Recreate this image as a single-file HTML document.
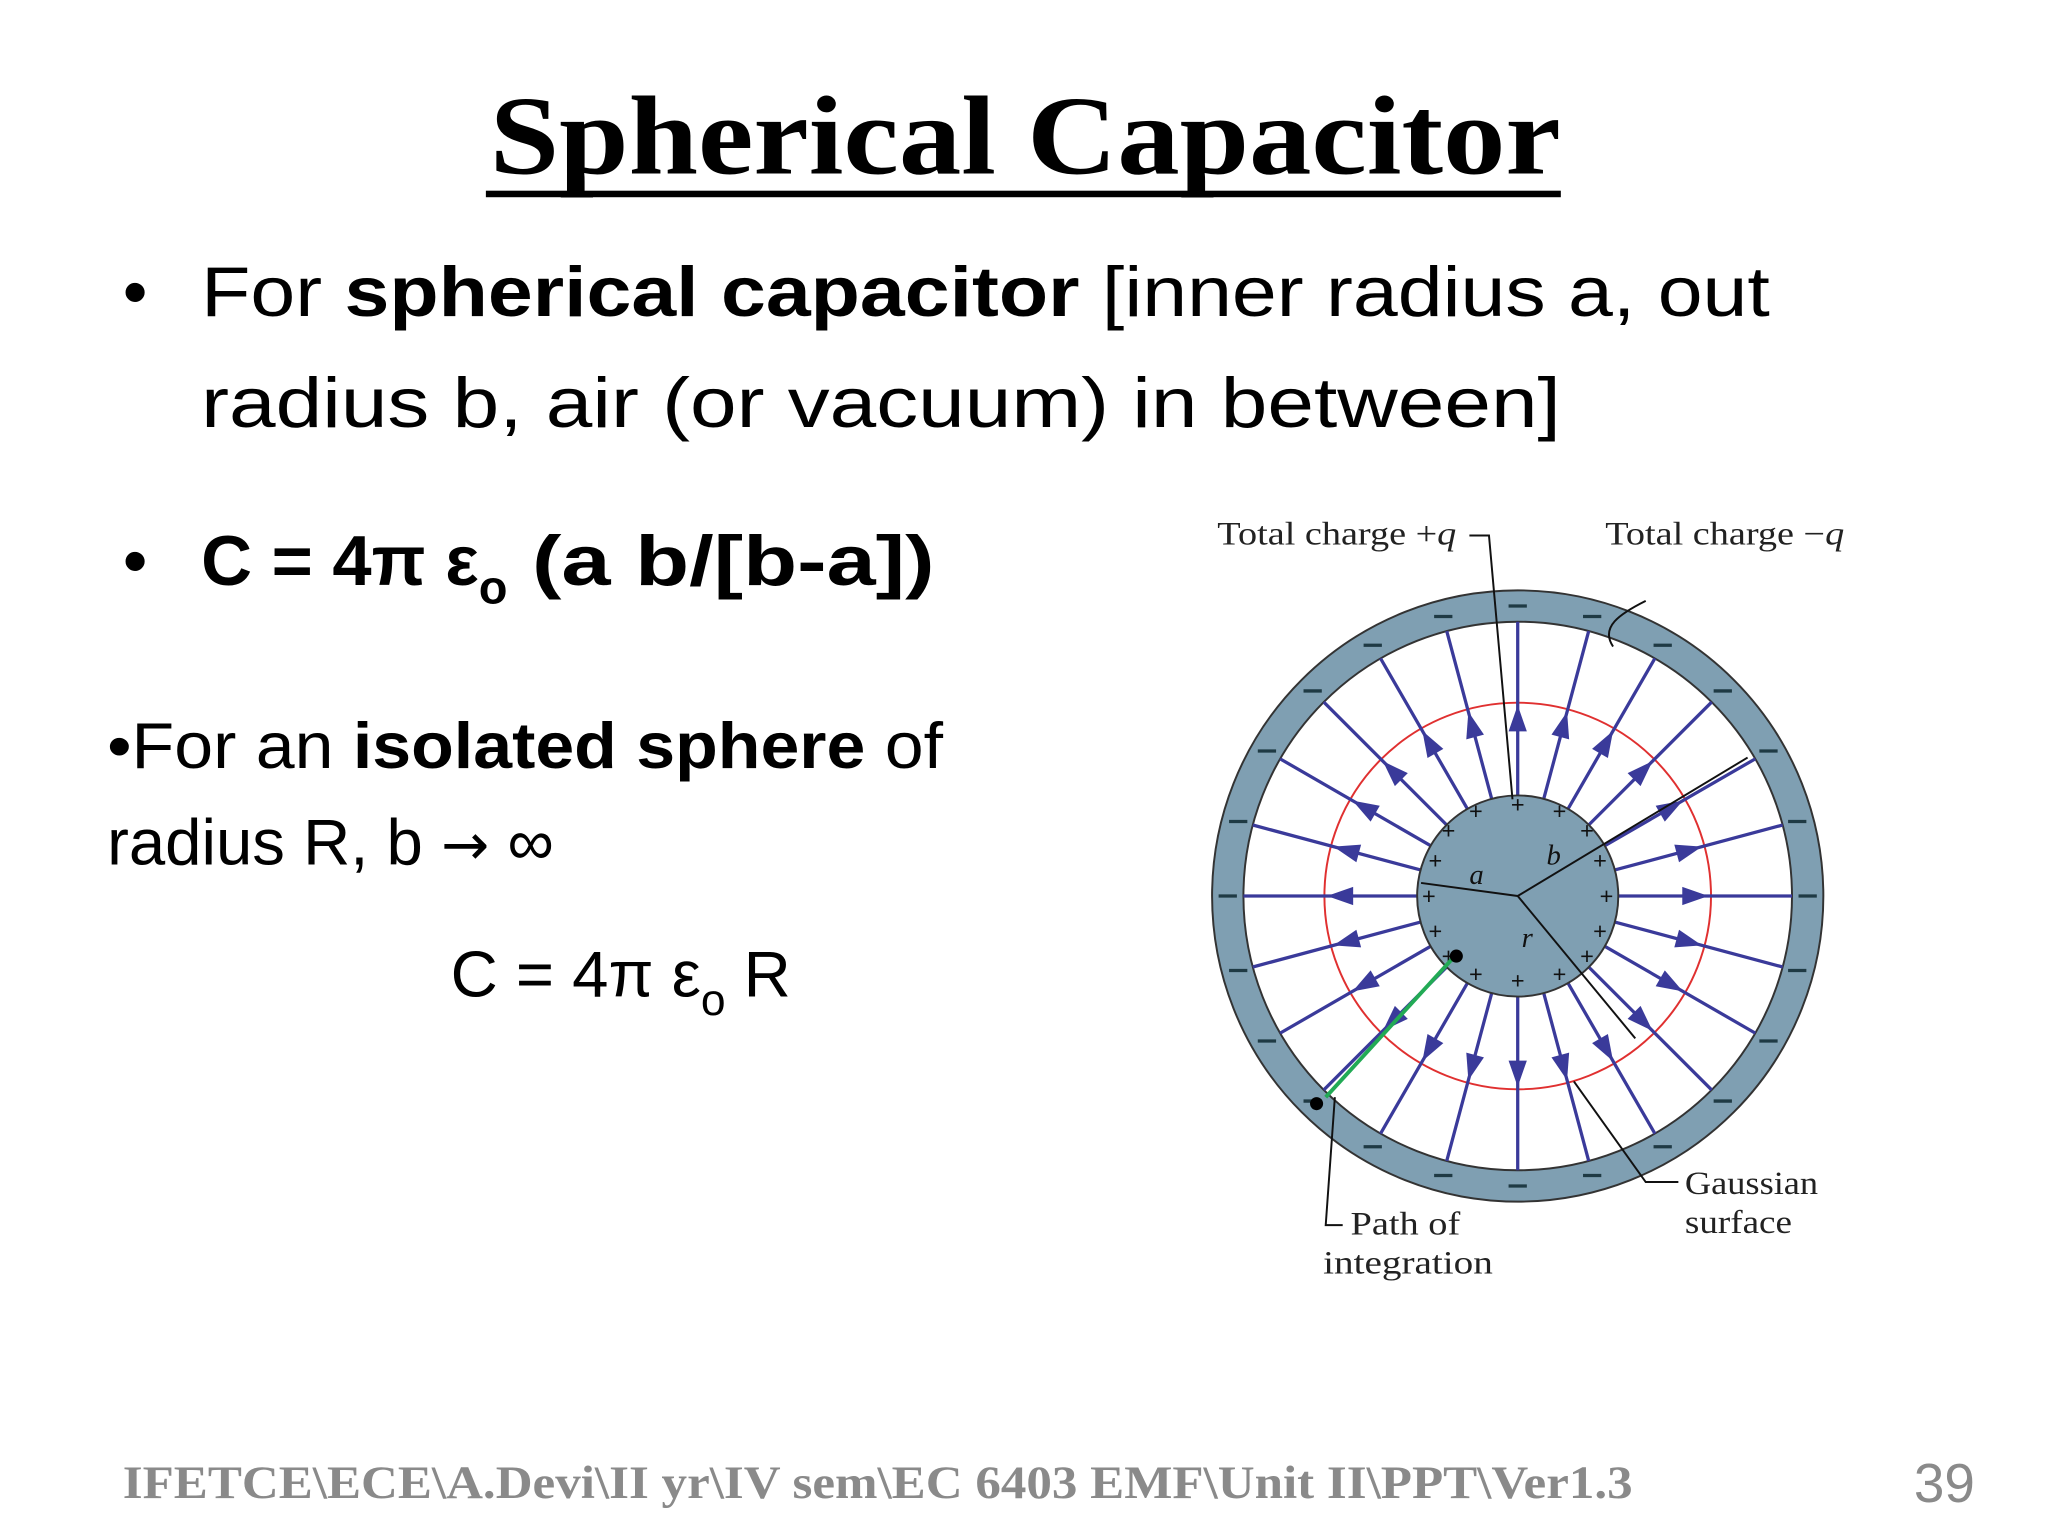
<!DOCTYPE html>
<html><head><meta charset="utf-8"><style>
html,body{margin:0;padding:0;background:#fff;}
svg{display:block;}
</style></head><body>
<svg width="2048" height="1536" viewBox="0 0 1568 1176" xmlns="http://www.w3.org/2000/svg">
<rect width="1568" height="1176" fill="#fff"/>
<text x="375" y="133" textLength="820" lengthAdjust="spacingAndGlyphs" font-family="Liberation Serif, serif" font-weight="bold" font-size="86" fill="#000">Spherical Capacitor</text>
<rect x="372" y="146" width="823" height="5" fill="#000"/>
<g font-family="Liberation Sans, sans-serif" font-size="54" fill="#000">
<text x="94" y="242">•</text>
<text x="154" y="242" textLength="1201" lengthAdjust="spacingAndGlyphs">For <tspan font-weight="bold">spherical capacitor</tspan> [inner radius a, out</text>
<text x="154" y="327" textLength="1041" lengthAdjust="spacingAndGlyphs">radius b, air (or vacuum) in between]</text>
<text x="94" y="448">•</text>
<text x="154" y="448" font-weight="bold">C = 4π ε<tspan font-size="36" dy="14">o</tspan><tspan dy="-14" textLength="327" lengthAdjust="spacingAndGlyphs"> (a b/[b-a])</tspan></text>
<text x="82" y="588" font-size="50" textLength="640" lengthAdjust="spacingAndGlyphs">•For an <tspan font-weight="bold">isolated sphere</tspan> of</text>
<text x="82" y="662" font-size="50">radius R, b <tspan font-family="DejaVu Sans, sans-serif" font-size="44">→</tspan> ∞</text>
<text x="345" y="763" font-size="50">C = 4π ε<tspan font-size="34" dy="14">o</tspan><tspan dy="-14"> R</tspan></text>
</g>
<g font-family="Liberation Serif, serif" font-size="25" fill="#222">
<text x="932" y="417" textLength="183" lengthAdjust="spacingAndGlyphs">Total charge +<tspan font-style="italic">q</tspan></text>
<text x="1229" y="417" textLength="183" lengthAdjust="spacingAndGlyphs">Total charge −<tspan font-style="italic">q</tspan></text>
<text x="1290" y="914" textLength="102" lengthAdjust="spacingAndGlyphs">Gaussian</text>
<text x="1290" y="944" textLength="82" lengthAdjust="spacingAndGlyphs">surface</text>
<text x="1034" y="945" textLength="84" lengthAdjust="spacingAndGlyphs">Path of</text>
<text x="1013" y="975" textLength="130" lengthAdjust="spacingAndGlyphs">integration</text>
</g>
<circle cx="1162" cy="686" r="222" fill="none" stroke="#7f9fb2" stroke-width="24"/>
<circle cx="1162" cy="686" r="234" fill="none" stroke="#333" stroke-width="1.5"/>
<circle cx="1162" cy="686" r="210" fill="none" stroke="#333" stroke-width="1.5"/>
<circle cx="1162" cy="686" r="148" fill="none" stroke="#e03030" stroke-width="1.5"/>
<defs>
<g id="ar">
<line x1="1239" y1="686" x2="1372" y2="686" stroke="#3a3a9a" stroke-width="2.5"/>
<polygon points="1308,686 1288,679 1288,693" fill="#3a3a9a"/>
</g>
<line id="m" x1="-7" y1="0" x2="7" y2="0" stroke="#1f3a44" stroke-width="2.5"/>
</defs>
<use href="#ar" transform="rotate(0 1162 686)"/>
<use href="#ar" transform="rotate(15 1162 686)"/>
<use href="#ar" transform="rotate(30 1162 686)"/>
<use href="#ar" transform="rotate(45 1162 686)"/>
<use href="#ar" transform="rotate(60 1162 686)"/>
<use href="#ar" transform="rotate(75 1162 686)"/>
<use href="#ar" transform="rotate(90 1162 686)"/>
<use href="#ar" transform="rotate(105 1162 686)"/>
<use href="#ar" transform="rotate(120 1162 686)"/>
<use href="#ar" transform="rotate(135 1162 686)"/>
<use href="#ar" transform="rotate(150 1162 686)"/>
<use href="#ar" transform="rotate(165 1162 686)"/>
<use href="#ar" transform="rotate(180 1162 686)"/>
<use href="#ar" transform="rotate(195 1162 686)"/>
<use href="#ar" transform="rotate(210 1162 686)"/>
<use href="#ar" transform="rotate(225 1162 686)"/>
<use href="#ar" transform="rotate(240 1162 686)"/>
<use href="#ar" transform="rotate(255 1162 686)"/>
<use href="#ar" transform="rotate(270 1162 686)"/>
<use href="#ar" transform="rotate(285 1162 686)"/>
<use href="#ar" transform="rotate(300 1162 686)"/>
<use href="#ar" transform="rotate(315 1162 686)"/>
<use href="#ar" transform="rotate(330 1162 686)"/>
<use href="#ar" transform="rotate(345 1162 686)"/>
<g transform="translate(1162 686)">
<use href="#m" x="222" y="0"/><use href="#m" x="-222" y="0"/>
<use href="#m" x="0" y="222"/><use href="#m" x="0" y="-222"/>
<use href="#m" x="214" y="57"/><use href="#m" x="214" y="-57"/><use href="#m" x="-214" y="57"/><use href="#m" x="-214" y="-57"/>
<use href="#m" x="57" y="214"/><use href="#m" x="57" y="-214"/><use href="#m" x="-57" y="214"/><use href="#m" x="-57" y="-214"/>
<use href="#m" x="192" y="111"/><use href="#m" x="192" y="-111"/><use href="#m" x="-192" y="111"/><use href="#m" x="-192" y="-111"/>
<use href="#m" x="111" y="192"/><use href="#m" x="111" y="-192"/><use href="#m" x="-111" y="192"/><use href="#m" x="-111" y="-192"/>
<use href="#m" x="157" y="157"/><use href="#m" x="157" y="-157"/><use href="#m" x="-157" y="157"/><use href="#m" x="-157" y="-157"/>
</g>
<circle cx="1162" cy="686" r="77" fill="#7f9fb2" stroke="#333" stroke-width="1.5"/>
<g font-family="Liberation Sans, sans-serif" font-size="18" fill="#111" text-anchor="middle">
<text x="1230" y="692">+</text><text x="1094" y="692">+</text>
<text x="1225" y="665">+</text><text x="1225" y="719">+</text>
<text x="1099" y="665">+</text><text x="1099" y="719">+</text>
<text x="1215" y="642">+</text><text x="1215" y="738">+</text>
<text x="1109" y="642">+</text><text x="1109" y="738">+</text>
<text x="1194" y="627">+</text><text x="1194" y="752">+</text>
<text x="1130" y="627">+</text><text x="1130" y="752">+</text>
<text x="1162" y="622">+</text><text x="1162" y="757">+</text>
</g>
<g stroke="#111" stroke-width="1.5" fill="none">
<line x1="1162" y1="686" x2="1088" y2="676"/>
<line x1="1162" y1="686" x2="1338" y2="580"/>
<line x1="1162" y1="686" x2="1252" y2="795"/>
<path d="M1125 410 H1140 L1158 612"/>
<path d="M1260 460 C1240 470 1225 480 1235 495"/>
<path d="M1285 905 L1260 905 L1205 828"/>
<path d="M1028 938 L1015 938 L1022 840"/>
</g>
<line x1="1015" y1="840" x2="1112" y2="734" stroke="#22aa55" stroke-width="3"/>
<circle cx="1115" cy="732" r="5" fill="#000"/>
<circle cx="1008" cy="845" r="5" fill="#000"/>
<g font-family="Liberation Serif, serif" font-style="italic" font-size="22" fill="#111">
<text x="1125" y="677">a</text><text x="1184" y="662">b</text><text x="1165" y="725">r</text>
</g>
<text x="94" y="1147" textLength="1156" lengthAdjust="spacingAndGlyphs" font-family="Liberation Serif, serif" font-weight="bold" font-size="36" fill="#8a8a8a">IFETCE\ECE\A.Devi\II yr\IV sem\EC 6403 EMF\Unit II\PPT\Ver1.3</text>
<text x="1512" y="1150" text-anchor="end" font-family="Liberation Sans, sans-serif" font-size="42" fill="#8a8a8a">39</text>
</svg>
</body></html>
